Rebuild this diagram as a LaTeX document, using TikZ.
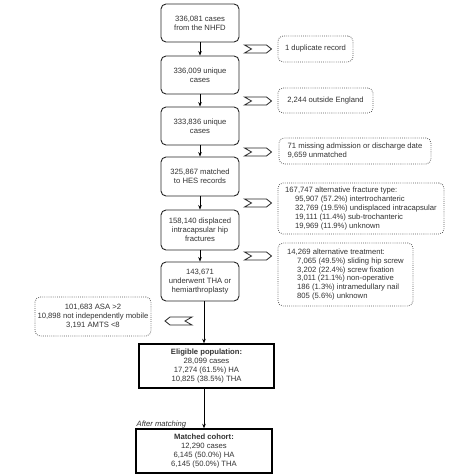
\documentclass[tikz,border=0pt]{standalone}
\usepackage{fontspec}
\setmainfont{Liberation Sans}
\usetikzlibrary{arrows.meta}
\begin{document}
\begin{tikzpicture}[x=1bp,y=-1bp,
  txt/.style={font=\fontsize{7.7}{9}\selectfont, text=black!80},
  mainbox/.style={txt, draw=black!85, line width=0.9bp, rounded corners=5bp,
    minimum width=78bp, align=center, inner sep=0pt},
  bigbox/.style={txt, draw=black, line width=1.4bp, align=center, inner sep=0pt},
  dotbox/.style={txt, draw=black!65, dash pattern=on 0.8bp off 1.3bp, line width=0.8bp, rounded corners=5bp, inner sep=0pt},
  arr/.style={-{Stealth[length=4.5bp,width=3.6bp]}, line width=0.8bp, black},
  chevR/.pic={\draw[line width=0.8bp, draw=black!85, fill=white]
     (-13.5,-4) -- (8.5,-4) -- (13.5,0) -- (8.5,4) -- (-13.5,4) -- (-6.5,0) -- cycle;},
  chevL/.pic={\draw[line width=0.8bp, draw=black!85, fill=white]
     (13.5,-4) -- (-8.5,-4) -- (-13.5,0) -- (-8.5,4) -- (13.5,4) -- (6.5,0) -- cycle;}
]
\useasboundingbox (0,0) rectangle (474,474);

% main column
\node[mainbox, minimum height=38bp] (b1) at (200,23) {336,081 cases\\from the NHFD};
\node[mainbox, minimum height=38bp] (b2) at (200,75) {336,009 unique\\cases};
\node[mainbox, minimum height=38bp] (b3) at (200,126) {333,836 unique\\cases};
\node[mainbox, minimum height=39bp] (b4) at (200,176.5) {325,867 matched\\to HES records};
\node[mainbox, minimum height=40bp] (b5) at (200,230) {158,140 displaced\\intracapsular hip\\fractures};
\node[mainbox, minimum height=39bp] (b6) at (200,281.5) {143,671\\underwent THA or\\hemiarthroplasty};

\node[bigbox, minimum width=135bp, minimum height=44bp] (elig) at (206.5,366)
  {\textbf{Eligible population:}\\28,099 cases\\17,274 (61.5\%) HA\\10,825 (38.5\%) THA};
\node[bigbox, minimum width=136bp, minimum height=44bp] (mat) at (204,451)
  {\textbf{Matched cohort:}\\12,290 cases\\6,145 (50.0\%) HA\\6,145 (50.0\%) THA};
\node[txt, anchor=west, inner sep=0pt, font=\fontsize{7.7}{9}\selectfont\itshape] (am) at (136.5,424.5) {After matching};

% exclusion boxes
\node[dotbox, minimum width=75bp, minimum height=26bp] (d1) at (315.5,49) {1 duplicate record};
\node[dotbox, minimum width=95bp, minimum height=25bp] (d2) at (325.5,100.5) {2,244 outside England};
\node[dotbox, minimum width=152bp, minimum height=26bp, align=left] (d3) at (355,151)
  {71 missing admission or discharge date\\9,659 unmatched};
\node[dotbox, minimum width=166bp, minimum height=51bp, align=left] (d4) at (361,208.5)
  {167,747 alternative fracture type:\\
   \hspace*{10bp}95,907 (57.2\%) intertrochanteric\\
   \hspace*{10bp}32,769 (19.5\%) undisplaced intracapsular\\
   \hspace*{10bp}19,111 (11.4\%) sub-trochanteric\\
   \hspace*{10bp}19,969 (11.9\%) unknown};
\node[dotbox, minimum width=135bp, minimum height=63bp, align=left] (d5) at (345.5,274.5)
  {14,269 alternative treatment:\\
   \hspace*{10bp}7,065 (49.5\%) sliding hip screw\\
   \hspace*{10bp}3,202 (22.4\%) screw fixation\\
   \hspace*{10bp}3,011 (21.1\%) non-operative\\
   \hspace*{10bp}186 (1.3\%) intramedullary nail\\
   \hspace*{10bp}805 (5.6\%) unknown};
\node[dotbox, minimum width=116bp, minimum height=39bp, align=center] (dl) at (93,316.5)
  {101,683 ASA >2\\10,898 not independently mobile\\3,191 AMTS <8};

% chevrons
\pic at (258,49) {chevR};
\pic at (258,101) {chevR};
\pic at (258,152) {chevR};
\pic at (258,203) {chevR};
\pic at (258,256) {chevR};
\pic at (178.5,321) {chevL};

% connectors
\coordinate (ax) at (204,0);
\draw[arr] (b1) -- (b2);
\draw[arr] (b2) -- (b3);
\draw[arr] (b3) -- (b4);
\draw[arr] (b4) -- (b5);
\draw[arr] (b5) -- (b6);
\draw[arr] (b6.south -| ax) -- (elig.north -| ax);
\draw[arr] (elig.south -| ax) -- (mat.north -| ax);
\end{tikzpicture}
\end{document}
